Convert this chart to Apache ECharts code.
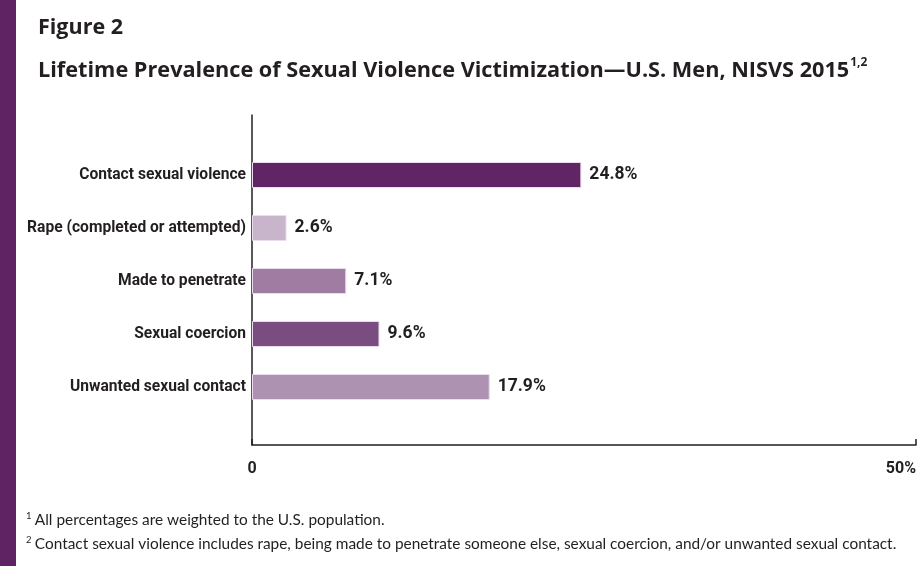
<!DOCTYPE html>
<html><head><meta charset="utf-8">
<script src="https://cdn.jsdelivr.net/npm/echarts@6/dist/echarts.min.js"></script>
<style>html,body{margin:0;padding:0;background:#fff}#c{width:921px;height:566px}</style>
</head><body><div id="c"></div>
<script>
var categories = ['Contact sexual violence', 'Rape (completed or attempted)', 'Made to penetrate', 'Sexual coercion', 'Unwanted sexual contact'];
var values = [24.8, 2.6, 7.1, 9.6, 17.9];
var barColors = ['#612566', '#c8b5cb', '#a07ba2', '#7b4c80', '#ad93b1'];
var xTickLabels = {0: '0', 50: '50%'};
var figureLabel = 'Figure 2';
var titleText = 'Lifetime Prevalence of Sexual Violence Victimization\u2014U.S. Men, NISVS 2015';
var footnotes = [
  ['1', 'All percentages are weighted to the U.S. population.'],
  ['2', 'Contact sexual violence includes rape, being made to penetrate someone else, sexual coercion, and/or unwanted sexual contact.']
];

var dark = '#231f20';
var narrow = 'Roboto, sans-serif';
var chart = echarts.init(document.getElementById('c'), null, {renderer: 'canvas'});
chart.setOption({
  animation: false,
  backgroundColor: '#fff',
  title: [
    {text: figureLabel, left: 38, top: 17, padding: 0, textStyle: {fontFamily: '"Open Sans"', fontWeight: 'bold', fontSize: 21.5, color: dark}},
    {text: '{m|' + titleText + '}{s|1,2}', left: 38, top: 56, padding: 0,
     textStyle: {rich: {
       m: {fontFamily: '"Open Sans"', fontWeight: 'bold', fontSize: 21.7, color: dark, lineHeight: 26, verticalAlign: 'bottom'},
       s: {fontFamily: '"Open Sans"', fontWeight: 'bold', fontSize: 12, color: dark, lineHeight: 26, verticalAlign: 'top', padding: [1,0,0,1]}
     }}}
  ],
  graphic: [
    {type: 'rect', left: 0, top: 0, shape: {width: 16, height: 566}, style: {fill: '#5f2363'}},
    {type: 'text', left: 26, top: 511, style: {rich: {
       s: {fontFamily: 'Lato', fontSize: 9.5, fill: dark, verticalAlign: 'top', lineHeight: 19},
       t: {fontFamily: 'Lato', fontSize: 15.4, fill: dark, lineHeight: 19}
     }, text: '{s|' + footnotes[0][0] + '} {t|' + footnotes[0][1] + '}'}},
    {type: 'text', left: 26, top: 535, style: {rich: {
       s: {fontFamily: 'Lato', fontSize: 9.5, fill: dark, verticalAlign: 'top', lineHeight: 19},
       t: {fontFamily: 'Lato', fontSize: 15.4, fill: dark, lineHeight: 19}
     }, text: '{s|' + footnotes[1][0] + '} {t|' + footnotes[1][1] + '}'}}
  ],
  grid: [
    {left: 252, right: 5, top: 148.5, height: 265, containLabel: false, outerBoundsMode: 'none'},
    {left: 252, right: 5, top: 115, bottom: 121, containLabel: false, outerBoundsMode: 'none'}
  ],
  xAxis: [
    {type: 'value', gridIndex: 0, min: 0, max: 50, show: false},
    {type: 'value', gridIndex: 1, min: 0, max: 50, interval: 50,
     axisLine: {show: true, lineStyle: {color: dark, width: 1.5}},
     axisTick: {show: true, inside: true, length: 6, lineStyle: {color: dark, width: 1.5}},
     splitLine: {show: false},
     axisLabel: {margin: 16, fontFamily: narrow, fontWeight: 'bold', fontSize: 16, color: dark, alignMaxLabel: 'right',
       formatter: function (v) { return xTickLabels[v] !== undefined ? xTickLabels[v] : ''; }}}
  ],
  yAxis: [
    {type: 'category', gridIndex: 0, data: categories, inverse: true,
     axisLine: {show: false}, axisTick: {show: false}, splitLine: {show: false},
     axisLabel: {margin: 6, fontFamily: narrow, fontWeight: 'bold', fontSize: 15.6, color: dark}},
    {type: 'value', gridIndex: 1, min: 0, max: 1,
     axisLine: {show: true, lineStyle: {color: dark, width: 1.5}},
     axisTick: {show: false}, axisLabel: {show: false}, splitLine: {show: false}}
  ],
  series: [{
    type: 'bar', xAxisIndex: 0, yAxisIndex: 0,
    barWidth: 26,
    data: values.map(function (v, i) { return {value: v, itemStyle: {color: barColors[i]}}; }),
    itemStyle: {borderColor: '#eadcec', borderWidth: 1},
    label: {show: true, position: 'right', distance: 8, fontFamily: narrow, fontWeight: 'bold', fontSize: 17.5, color: dark,
      formatter: function (p) { return p.value.toFixed(1) + '%'; }}
  }]
});
</script></body></html>
